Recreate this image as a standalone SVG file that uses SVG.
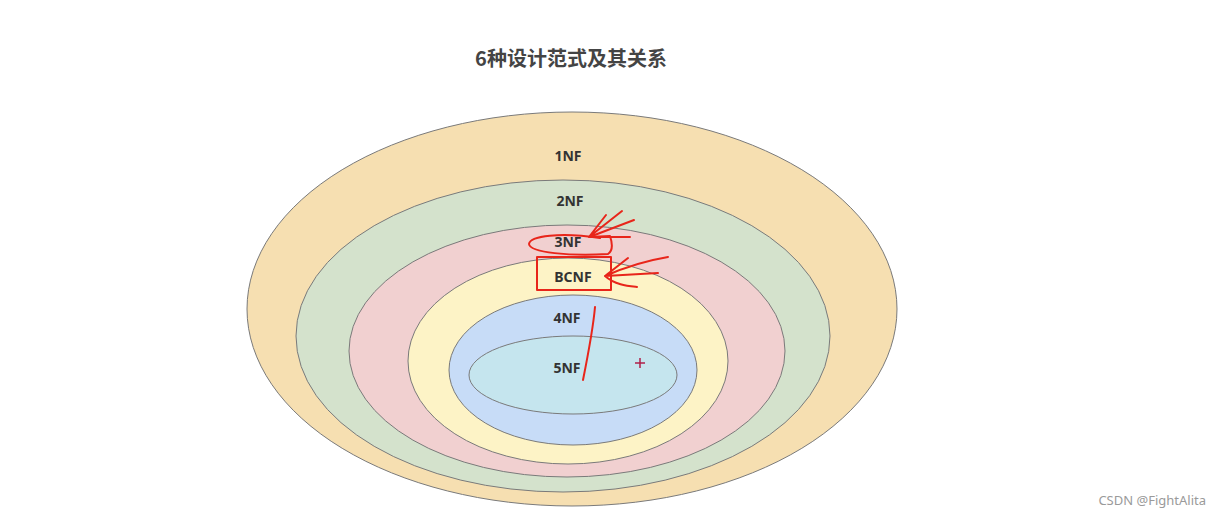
<svg xmlns="http://www.w3.org/2000/svg" width="1219" height="521" viewBox="0 0 1219 521">
<style>
.e{stroke:#7a7a7a;stroke-width:1}
.t{font-family:"Noto Sans","Noto Sans CJK SC",sans-serif;font-weight:bold;font-size:14px;fill:#333;text-anchor:middle}
.r{fill:none;stroke:#e8251a;stroke-width:2;stroke-linecap:round;stroke-linejoin:round}
</style>
<rect width="1219" height="521" fill="#fff"/>
<text x="571" y="66" style="font-family:'Noto Sans CJK SC',sans-serif;font-weight:bold;font-size:20px;fill:#444;text-anchor:middle">6种设计范式及其关系</text>
<g id="n1"><ellipse class="e" cx="572" cy="309" rx="325" ry="197" fill="#f6dfb1"/><text class="t" x="568" y="161">1NF</text></g>
<g id="n2"><ellipse class="e" cx="563" cy="336" rx="267" ry="156" fill="#d4e2cc"/><text class="t" x="570" y="206">2NF</text></g>
<g id="n3"><ellipse class="e" cx="567" cy="351" rx="218" ry="126" fill="#f1d0d0"/><text class="t" x="568" y="247">3NF</text></g>
<g id="n4"><ellipse class="e" cx="568" cy="361" rx="160" ry="103" fill="#fdf3c6"/><text class="t" x="573" y="282">BCNF</text></g>
<g id="n5"><ellipse class="e" cx="573" cy="370" rx="124" ry="75" fill="#c7dcf7"/><text class="t" x="567" y="323">4NF</text></g>
<g id="n6"><ellipse class="e" cx="573" cy="375" rx="104" ry="39" fill="#c5e5ee"/><text class="t" x="567" y="373">5NF</text></g>
<g id="connectors">
<path class="r" d="M600,238 C560,232 530,236 529,244 C530,253 570,256 608,254 C614,250 612,242 610,236 L589,237"/>
<path class="r" d="M589,237 L606,215 M589,237 L622,211 M592,236 L634,220 M589,237 L630,237"/>
<rect class="r" x="537" y="257" width="74" height="33"/>
<path class="r" d="M605,276 L628,258 M605,276 C630,265 650,260 668,257 M605,276 L658,273 M605,276 C615,285 628,286 637,287"/>
<path class="r" d="M595,307 C593,330 588,355 583,380"/>
<path d="M635,363 H645 M640,358 V368" stroke="#b0204a" stroke-width="1.5"/>
</g>
<text x="1206" y="505" style="font-family:'Noto Sans',sans-serif;font-size:13px;fill:#9a9a9a;text-anchor:end">CSDN @FightAlita</text>
</svg>
